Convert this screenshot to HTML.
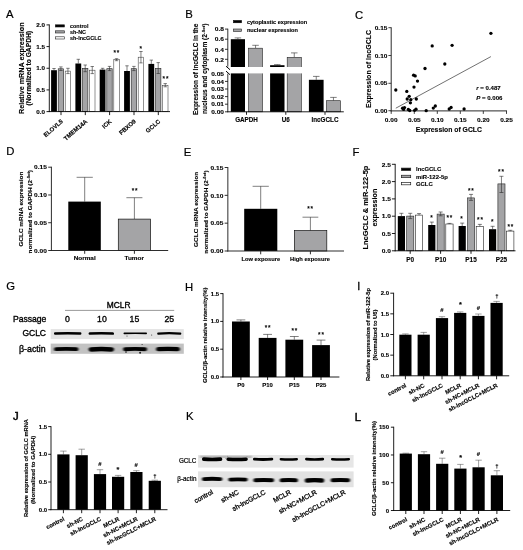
<!DOCTYPE html>
<html lang="en"><head><meta charset="utf-8"><title>Figure</title>
<style>
html,body{margin:0;padding:0;background:#fff;}
svg{display:block;}
svg text{font-family:"Liberation Sans",Arial,sans-serif;}
</style></head><body>
<svg width="523" height="550" viewBox="0 0 523 550" style="filter:blur(0.3px)">
<rect x="0" y="0" width="523" height="550" fill="#fff"/>
<text x="5.90" y="17.70" font-size="11.3" font-weight="normal" text-anchor="start" fill="#000" stroke="#000" stroke-width="0.2">A</text>
<text x="185.30" y="18.30" font-size="11.3" font-weight="normal" text-anchor="start" fill="#000" stroke="#000" stroke-width="0.2">B</text>
<text x="355.00" y="18.60" font-size="11.3" font-weight="normal" text-anchor="start" fill="#000" stroke="#000" stroke-width="0.2">C</text>
<text x="6.30" y="155.40" font-size="11.3" font-weight="normal" text-anchor="start" fill="#000" stroke="#000" stroke-width="0.2">D</text>
<text x="183.80" y="155.80" font-size="11.3" font-weight="normal" text-anchor="start" fill="#000" stroke="#000" stroke-width="0.2">E</text>
<text x="352.50" y="155.80" font-size="11.3" font-weight="normal" text-anchor="start" fill="#000" stroke="#000" stroke-width="0.2">F</text>
<text x="6.30" y="289.60" font-size="11.3" font-weight="normal" text-anchor="start" fill="#000" stroke="#000" stroke-width="0.2">G</text>
<text x="185.00" y="291.20" font-size="11.3" font-weight="normal" text-anchor="start" fill="#000" stroke="#000" stroke-width="0.2">H</text>
<text x="357.20" y="290.20" font-size="10.6" font-weight="normal" text-anchor="start" fill="#000" stroke="#000" stroke-width="0.3">I</text>
<text x="12.90" y="419.90" font-size="11.3" font-weight="normal" text-anchor="start" fill="#000" stroke="#000" stroke-width="0.5">J</text>
<text x="186.00" y="419.60" font-size="11.3" font-weight="normal" text-anchor="start" fill="#000" stroke="#000" stroke-width="0.2">K</text>
<text x="354.70" y="421.30" font-size="11.0" font-weight="normal" text-anchor="start" fill="#000" stroke="#000" stroke-width="0.5">L</text>
<line x1="49.30" y1="24.46" x2="49.30" y2="112.04" stroke="#000" stroke-width="0.88"/>
<line x1="46.50" y1="24.90" x2="49.30" y2="24.90" stroke="#000" stroke-width="0.88"/>
<text x="45.00" y="27.06" font-size="6.0" font-weight="bold" text-anchor="end" fill="#000" stroke="#000" stroke-width="0.12" textLength="8.76" lengthAdjust="spacingAndGlyphs">2.0</text>
<line x1="46.50" y1="46.57" x2="49.30" y2="46.57" stroke="#000" stroke-width="0.88"/>
<text x="45.00" y="48.73" font-size="6.0" font-weight="bold" text-anchor="end" fill="#000" stroke="#000" stroke-width="0.12" textLength="8.76" lengthAdjust="spacingAndGlyphs">1.5</text>
<line x1="46.50" y1="68.25" x2="49.30" y2="68.25" stroke="#000" stroke-width="0.88"/>
<text x="45.00" y="70.41" font-size="6.0" font-weight="bold" text-anchor="end" fill="#000" stroke="#000" stroke-width="0.12" textLength="8.76" lengthAdjust="spacingAndGlyphs">1.0</text>
<line x1="46.50" y1="89.92" x2="49.30" y2="89.92" stroke="#000" stroke-width="0.88"/>
<text x="45.00" y="92.08" font-size="6.0" font-weight="bold" text-anchor="end" fill="#000" stroke="#000" stroke-width="0.12" textLength="8.76" lengthAdjust="spacingAndGlyphs">0.5</text>
<line x1="46.50" y1="111.60" x2="49.30" y2="111.60" stroke="#000" stroke-width="0.88"/>
<text x="45.00" y="113.76" font-size="6.0" font-weight="bold" text-anchor="end" fill="#000" stroke="#000" stroke-width="0.12" textLength="8.76" lengthAdjust="spacingAndGlyphs">0.0</text>
<rect x="51.10" y="70.20" width="5.80" height="41.40" fill="#000"/>
<rect x="58.20" y="68.80" width="5.40" height="42.80" fill="#a4a4a6" stroke="#222" stroke-width="0.6"/>
<rect x="65.20" y="71.10" width="5.50" height="40.50" fill="#fff" stroke="#3a3a3a" stroke-width="0.55"/>
<line x1="54.00" y1="68.50" x2="54.00" y2="70.20" stroke="#2a2a2a" stroke-width="0.6"/>
<line x1="52.30" y1="68.50" x2="55.70" y2="68.50" stroke="#2a2a2a" stroke-width="0.6"/>
<line x1="60.90" y1="66.90" x2="60.90" y2="70.50" stroke="#2a2a2a" stroke-width="0.6"/>
<line x1="59.20" y1="66.90" x2="62.60" y2="66.90" stroke="#2a2a2a" stroke-width="0.6"/>
<line x1="59.20" y1="70.50" x2="62.60" y2="70.50" stroke="#2a2a2a" stroke-width="0.6"/>
<line x1="67.95" y1="68.30" x2="67.95" y2="73.60" stroke="#2a2a2a" stroke-width="0.6"/>
<line x1="66.25" y1="68.30" x2="69.65" y2="68.30" stroke="#2a2a2a" stroke-width="0.6"/>
<line x1="66.25" y1="73.60" x2="69.65" y2="73.60" stroke="#2a2a2a" stroke-width="0.6"/>
<rect x="75.40" y="63.50" width="5.80" height="48.10" fill="#000"/>
<rect x="82.50" y="68.30" width="5.40" height="43.30" fill="#a4a4a6" stroke="#222" stroke-width="0.6"/>
<rect x="89.50" y="70.20" width="5.50" height="41.40" fill="#fff" stroke="#3a3a3a" stroke-width="0.55"/>
<line x1="78.30" y1="59.30" x2="78.30" y2="63.50" stroke="#2a2a2a" stroke-width="0.6"/>
<line x1="76.60" y1="59.30" x2="80.00" y2="59.30" stroke="#2a2a2a" stroke-width="0.6"/>
<line x1="85.20" y1="65.00" x2="85.20" y2="71.70" stroke="#2a2a2a" stroke-width="0.6"/>
<line x1="83.50" y1="65.00" x2="86.90" y2="65.00" stroke="#2a2a2a" stroke-width="0.6"/>
<line x1="83.50" y1="71.70" x2="86.90" y2="71.70" stroke="#2a2a2a" stroke-width="0.6"/>
<line x1="92.25" y1="66.50" x2="92.25" y2="73.60" stroke="#2a2a2a" stroke-width="0.6"/>
<line x1="90.55" y1="66.50" x2="93.95" y2="66.50" stroke="#2a2a2a" stroke-width="0.6"/>
<line x1="90.55" y1="73.60" x2="93.95" y2="73.60" stroke="#2a2a2a" stroke-width="0.6"/>
<rect x="99.70" y="69.60" width="5.80" height="42.00" fill="#000"/>
<rect x="106.80" y="68.70" width="5.40" height="42.90" fill="#a4a4a6" stroke="#222" stroke-width="0.6"/>
<rect x="113.80" y="59.70" width="5.50" height="51.90" fill="#fff" stroke="#3a3a3a" stroke-width="0.55"/>
<line x1="102.60" y1="68.30" x2="102.60" y2="69.60" stroke="#2a2a2a" stroke-width="0.6"/>
<line x1="100.90" y1="68.30" x2="104.30" y2="68.30" stroke="#2a2a2a" stroke-width="0.6"/>
<line x1="109.50" y1="66.40" x2="109.50" y2="70.60" stroke="#2a2a2a" stroke-width="0.6"/>
<line x1="107.80" y1="66.40" x2="111.20" y2="66.40" stroke="#2a2a2a" stroke-width="0.6"/>
<line x1="107.80" y1="70.60" x2="111.20" y2="70.60" stroke="#2a2a2a" stroke-width="0.6"/>
<line x1="116.55" y1="58.70" x2="116.55" y2="60.70" stroke="#2a2a2a" stroke-width="0.6"/>
<line x1="114.85" y1="58.70" x2="118.25" y2="58.70" stroke="#2a2a2a" stroke-width="0.6"/>
<line x1="114.85" y1="60.70" x2="118.25" y2="60.70" stroke="#2a2a2a" stroke-width="0.6"/>
<rect x="124.10" y="71.00" width="5.80" height="40.60" fill="#000"/>
<rect x="131.20" y="68.70" width="5.40" height="42.90" fill="#a4a4a6" stroke="#222" stroke-width="0.6"/>
<rect x="138.20" y="57.20" width="5.50" height="54.40" fill="#fff" stroke="#3a3a3a" stroke-width="0.55"/>
<line x1="127.00" y1="65.80" x2="127.00" y2="71.00" stroke="#2a2a2a" stroke-width="0.6"/>
<line x1="125.30" y1="65.80" x2="128.70" y2="65.80" stroke="#2a2a2a" stroke-width="0.6"/>
<line x1="133.90" y1="66.40" x2="133.90" y2="70.60" stroke="#2a2a2a" stroke-width="0.6"/>
<line x1="132.20" y1="66.40" x2="135.60" y2="66.40" stroke="#2a2a2a" stroke-width="0.6"/>
<line x1="132.20" y1="70.60" x2="135.60" y2="70.60" stroke="#2a2a2a" stroke-width="0.6"/>
<line x1="140.95" y1="51.50" x2="140.95" y2="62.90" stroke="#2a2a2a" stroke-width="0.6"/>
<line x1="139.25" y1="51.50" x2="142.65" y2="51.50" stroke="#2a2a2a" stroke-width="0.6"/>
<line x1="139.25" y1="62.90" x2="142.65" y2="62.90" stroke="#2a2a2a" stroke-width="0.6"/>
<rect x="148.40" y="63.90" width="5.80" height="47.70" fill="#000"/>
<rect x="155.50" y="68.30" width="5.40" height="43.30" fill="#a4a4a6" stroke="#222" stroke-width="0.6"/>
<rect x="162.50" y="85.50" width="5.50" height="26.10" fill="#fff" stroke="#3a3a3a" stroke-width="0.55"/>
<line x1="151.30" y1="60.10" x2="151.30" y2="63.90" stroke="#2a2a2a" stroke-width="0.6"/>
<line x1="149.60" y1="60.10" x2="153.00" y2="60.10" stroke="#2a2a2a" stroke-width="0.6"/>
<line x1="158.20" y1="62.60" x2="158.20" y2="73.50" stroke="#2a2a2a" stroke-width="0.6"/>
<line x1="156.50" y1="62.60" x2="159.90" y2="62.60" stroke="#2a2a2a" stroke-width="0.6"/>
<line x1="156.50" y1="73.50" x2="159.90" y2="73.50" stroke="#2a2a2a" stroke-width="0.6"/>
<line x1="165.25" y1="83.60" x2="165.25" y2="86.80" stroke="#2a2a2a" stroke-width="0.6"/>
<line x1="163.55" y1="83.60" x2="166.95" y2="83.60" stroke="#2a2a2a" stroke-width="0.6"/>
<line x1="163.55" y1="86.80" x2="166.95" y2="86.80" stroke="#2a2a2a" stroke-width="0.6"/>
<line x1="48.86" y1="111.60" x2="170.00" y2="111.60" stroke="#000" stroke-width="0.88"/>
<line x1="61.00" y1="111.60" x2="61.00" y2="115.10" stroke="#000" stroke-width="0.88"/>
<line x1="85.30" y1="111.60" x2="85.30" y2="115.10" stroke="#000" stroke-width="0.88"/>
<line x1="109.60" y1="111.60" x2="109.60" y2="115.10" stroke="#000" stroke-width="0.88"/>
<line x1="134.00" y1="111.60" x2="134.00" y2="115.10" stroke="#000" stroke-width="0.88"/>
<line x1="158.30" y1="111.60" x2="158.30" y2="115.10" stroke="#000" stroke-width="0.88"/>
<text x="63.40" y="122.10" font-size="6.0" font-weight="bold" text-anchor="end" fill="#000" stroke="#000" stroke-width="0.18" transform="rotate(-41 63.40 122.10)">ELOVL5</text>
<text x="87.70" y="122.10" font-size="6.0" font-weight="bold" text-anchor="end" fill="#000" stroke="#000" stroke-width="0.18" transform="rotate(-41 87.70 122.10)">TMEM14A</text>
<text x="112.00" y="122.10" font-size="6.0" font-weight="bold" text-anchor="end" fill="#000" stroke="#000" stroke-width="0.18" transform="rotate(-41 112.00 122.10)">ICK</text>
<text x="136.40" y="122.10" font-size="6.0" font-weight="bold" text-anchor="end" fill="#000" stroke="#000" stroke-width="0.18" transform="rotate(-41 136.40 122.10)">FBXO9</text>
<text x="160.70" y="122.10" font-size="6.0" font-weight="bold" text-anchor="end" fill="#000" stroke="#000" stroke-width="0.18" transform="rotate(-41 160.70 122.10)">GCLC</text>
<text x="114.75" y="54.90" font-size="6.4" font-weight="bold" text-anchor="middle" fill="#000" stroke="#000" stroke-width="0.08">*</text>
<text x="118.05" y="54.90" font-size="6.4" font-weight="bold" text-anchor="middle" fill="#000" stroke="#000" stroke-width="0.08">*</text>
<text x="140.80" y="50.80" font-size="6.4" font-weight="bold" text-anchor="middle" fill="#000" stroke="#000" stroke-width="0.08">*</text>
<text x="163.85" y="80.80" font-size="6.4" font-weight="bold" text-anchor="middle" fill="#000" stroke="#000" stroke-width="0.08">*</text>
<text x="167.15" y="80.80" font-size="6.4" font-weight="bold" text-anchor="middle" fill="#000" stroke="#000" stroke-width="0.08">*</text>
<text x="23.70" y="68.20" font-size="7.0" font-weight="bold" text-anchor="middle" fill="#000" stroke="#000" stroke-width="0.12" textLength="91.60" lengthAdjust="spacingAndGlyphs" transform="rotate(-90 23.70 68.20)">Relative mRNA expression</text>
<text x="30.90" y="68.30" font-size="6.4" font-weight="bold" text-anchor="middle" fill="#000" stroke="#000" stroke-width="0.12" textLength="74.60" lengthAdjust="spacingAndGlyphs" transform="rotate(-90 30.90 68.30)">(Normalized to GAPDH)</text>
<rect x="55.30" y="24.80" width="9.20" height="2.20" fill="#000" stroke="#222" stroke-width="0.6"/>
<text x="70.00" y="27.92" font-size="5.6" font-weight="bold" text-anchor="start" fill="#000" stroke="#000" stroke-width="0.12" textLength="18.41" lengthAdjust="spacingAndGlyphs">control</text>
<rect x="55.30" y="30.80" width="9.20" height="2.20" fill="#a4a4a6" stroke="#222" stroke-width="0.6"/>
<text x="70.00" y="33.92" font-size="5.6" font-weight="bold" text-anchor="start" fill="#000" stroke="#000" stroke-width="0.12" textLength="15.99" lengthAdjust="spacingAndGlyphs">sh-NC</text>
<rect x="55.30" y="36.80" width="9.20" height="2.20" fill="#fff" stroke="#222" stroke-width="0.6"/>
<text x="70.00" y="39.92" font-size="5.6" font-weight="bold" text-anchor="start" fill="#000" stroke="#000" stroke-width="0.12" textLength="31.39" lengthAdjust="spacingAndGlyphs">sh-lncGCLC</text>
<line x1="227.80" y1="28.70" x2="227.80" y2="66.60" stroke="#000" stroke-width="0.8"/>
<line x1="227.80" y1="73.60" x2="227.80" y2="112.20" stroke="#000" stroke-width="0.8"/>
<line x1="225.00" y1="29.10" x2="227.80" y2="29.10" stroke="#000" stroke-width="0.8"/>
<text x="224.00" y="31.30" font-size="6.1" font-weight="bold" text-anchor="end" fill="#000" stroke="#000" stroke-width="0.12" textLength="9.16" lengthAdjust="spacingAndGlyphs">0.8</text>
<line x1="225.00" y1="39.20" x2="227.80" y2="39.20" stroke="#000" stroke-width="0.8"/>
<text x="224.00" y="41.40" font-size="6.1" font-weight="bold" text-anchor="end" fill="#000" stroke="#000" stroke-width="0.12" textLength="9.16" lengthAdjust="spacingAndGlyphs">0.6</text>
<line x1="225.00" y1="49.30" x2="227.80" y2="49.30" stroke="#000" stroke-width="0.8"/>
<text x="224.00" y="51.50" font-size="6.1" font-weight="bold" text-anchor="end" fill="#000" stroke="#000" stroke-width="0.12" textLength="9.16" lengthAdjust="spacingAndGlyphs">0.4</text>
<line x1="225.00" y1="59.30" x2="227.80" y2="59.30" stroke="#000" stroke-width="0.8"/>
<text x="224.00" y="61.50" font-size="6.1" font-weight="bold" text-anchor="end" fill="#000" stroke="#000" stroke-width="0.12" textLength="9.16" lengthAdjust="spacingAndGlyphs">0.2</text>
<text x="224.00" y="75.70" font-size="6.1" font-weight="bold" text-anchor="end" fill="#000" stroke="#000" stroke-width="0.12" textLength="12.82" lengthAdjust="spacingAndGlyphs">0.05</text>
<line x1="225.00" y1="81.40" x2="227.80" y2="81.40" stroke="#000" stroke-width="0.8"/>
<text x="224.00" y="83.60" font-size="6.1" font-weight="bold" text-anchor="end" fill="#000" stroke="#000" stroke-width="0.12" textLength="12.82" lengthAdjust="spacingAndGlyphs">0.04</text>
<line x1="225.00" y1="89.00" x2="227.80" y2="89.00" stroke="#000" stroke-width="0.8"/>
<text x="224.00" y="91.20" font-size="6.1" font-weight="bold" text-anchor="end" fill="#000" stroke="#000" stroke-width="0.12" textLength="12.82" lengthAdjust="spacingAndGlyphs">0.03</text>
<line x1="225.00" y1="96.60" x2="227.80" y2="96.60" stroke="#000" stroke-width="0.8"/>
<text x="224.00" y="98.80" font-size="6.1" font-weight="bold" text-anchor="end" fill="#000" stroke="#000" stroke-width="0.12" textLength="12.82" lengthAdjust="spacingAndGlyphs">0.02</text>
<line x1="225.00" y1="104.20" x2="227.80" y2="104.20" stroke="#000" stroke-width="0.8"/>
<text x="224.00" y="106.40" font-size="6.1" font-weight="bold" text-anchor="end" fill="#000" stroke="#000" stroke-width="0.12" textLength="12.82" lengthAdjust="spacingAndGlyphs">0.01</text>
<line x1="225.00" y1="111.80" x2="227.80" y2="111.80" stroke="#000" stroke-width="0.8"/>
<text x="224.00" y="114.00" font-size="6.1" font-weight="bold" text-anchor="end" fill="#000" stroke="#000" stroke-width="0.12" textLength="12.82" lengthAdjust="spacingAndGlyphs">0.00</text>
<line x1="237.90" y1="37.90" x2="237.90" y2="39.20" stroke="#2a2a2a" stroke-width="0.6"/>
<line x1="234.65" y1="37.90" x2="241.15" y2="37.90" stroke="#2a2a2a" stroke-width="0.6"/>
<rect x="230.80" y="39.20" width="14.20" height="72.60" fill="#000"/>
<line x1="255.55" y1="45.30" x2="255.55" y2="48.20" stroke="#2a2a2a" stroke-width="0.6"/>
<line x1="252.30" y1="45.30" x2="258.80" y2="45.30" stroke="#2a2a2a" stroke-width="0.6"/>
<rect x="248.60" y="48.20" width="13.90" height="63.60" fill="#a4a4a6" stroke="#222" stroke-width="0.6"/>
<line x1="277.30" y1="64.60" x2="277.30" y2="65.20" stroke="#2a2a2a" stroke-width="0.6"/>
<line x1="274.05" y1="64.60" x2="280.55" y2="64.60" stroke="#2a2a2a" stroke-width="0.6"/>
<rect x="270.10" y="65.20" width="14.40" height="46.60" fill="#000"/>
<line x1="294.25" y1="52.90" x2="294.25" y2="57.30" stroke="#2a2a2a" stroke-width="0.6"/>
<line x1="291.00" y1="52.90" x2="297.50" y2="52.90" stroke="#2a2a2a" stroke-width="0.6"/>
<rect x="287.20" y="57.30" width="14.10" height="54.50" fill="#a4a4a6" stroke="#222" stroke-width="0.6"/>
<line x1="316.25" y1="76.40" x2="316.25" y2="79.80" stroke="#2a2a2a" stroke-width="0.6"/>
<line x1="313.00" y1="76.40" x2="319.50" y2="76.40" stroke="#2a2a2a" stroke-width="0.6"/>
<rect x="308.90" y="79.80" width="14.70" height="32.00" fill="#000"/>
<line x1="333.45" y1="97.40" x2="333.45" y2="100.70" stroke="#2a2a2a" stroke-width="0.6"/>
<line x1="330.20" y1="97.40" x2="336.70" y2="97.40" stroke="#2a2a2a" stroke-width="0.6"/>
<rect x="326.40" y="100.70" width="14.10" height="11.10" fill="#a4a4a6" stroke="#222" stroke-width="0.6"/>
<rect x="228.40" y="67.00" width="76.60" height="6.40" fill="#fff"/>
<line x1="226.00" y1="66.20" x2="230.00" y2="69.70" stroke="#000" stroke-width="1.0"/>
<line x1="226.00" y1="71.10" x2="230.00" y2="74.70" stroke="#000" stroke-width="1.0"/>
<line x1="227.36" y1="111.80" x2="343.80" y2="111.80" stroke="#000" stroke-width="0.88"/>
<line x1="246.50" y1="111.80" x2="246.50" y2="114.80" stroke="#000" stroke-width="0.88"/>
<line x1="285.80" y1="111.80" x2="285.80" y2="114.80" stroke="#000" stroke-width="0.88"/>
<line x1="325.00" y1="111.80" x2="325.00" y2="114.80" stroke="#000" stroke-width="0.88"/>
<text x="246.50" y="122.47" font-size="6.3" font-weight="bold" text-anchor="middle" fill="#000" stroke="#000" stroke-width="0.12" textLength="22.75" lengthAdjust="spacingAndGlyphs">GAPDH</text>
<text x="285.80" y="122.47" font-size="6.3" font-weight="bold" text-anchor="middle" fill="#000" stroke="#000" stroke-width="0.12" textLength="8.05" lengthAdjust="spacingAndGlyphs">U6</text>
<text x="325.00" y="122.47" font-size="6.3" font-weight="bold" text-anchor="middle" fill="#000" stroke="#000" stroke-width="0.12" textLength="26.95" lengthAdjust="spacingAndGlyphs">lncGCLC</text>
<text x="198.40" y="69.30" font-size="6.3" font-weight="bold" text-anchor="middle" fill="#000" stroke="#000" stroke-width="0.12" textLength="91.40" lengthAdjust="spacingAndGlyphs" transform="rotate(-90 198.40 69.30)">Expression of lncGCLC in the</text>
<text x="207.20" y="68.80" font-size="6.3" font-weight="bold" text-anchor="middle" fill="#000" stroke="#000" stroke-width="0.12" textLength="90.40" lengthAdjust="spacingAndGlyphs" transform="rotate(-90 207.20 68.80)">nucleus and cytoplasm (2<tspan font-size="4.4" dy="-2.2">-δct</tspan><tspan dy="2.2">)</tspan></text>
<rect x="233.40" y="20.40" width="8.20" height="2.40" fill="#000" stroke="#000" stroke-width="0.5"/>
<text x="246.90" y="23.92" font-size="5.6" font-weight="bold" text-anchor="start" fill="#000" stroke="#000" stroke-width="0.12">cytoplastic expression</text>
<rect x="233.40" y="29.00" width="8.20" height="2.40" fill="#a4a4a6" stroke="#222" stroke-width="0.6"/>
<text x="246.90" y="32.42" font-size="5.6" font-weight="bold" text-anchor="start" fill="#000" stroke="#000" stroke-width="0.12">nuclear expression</text>
<line x1="391.20" y1="27.30" x2="391.20" y2="111.40" stroke="#2a2a2a" stroke-width="1.0"/>
<line x1="390.70" y1="110.90" x2="507.00" y2="110.90" stroke="#2a2a2a" stroke-width="1.0"/>
<line x1="388.40" y1="27.70" x2="391.20" y2="27.70" stroke="#2a2a2a" stroke-width="0.9"/>
<text x="387.40" y="29.79" font-size="5.8" font-weight="bold" text-anchor="end" fill="#000" stroke="#000" stroke-width="0.12" textLength="12.64" lengthAdjust="spacingAndGlyphs">0.15</text>
<line x1="388.40" y1="55.50" x2="391.20" y2="55.50" stroke="#2a2a2a" stroke-width="0.9"/>
<text x="387.40" y="57.59" font-size="5.8" font-weight="bold" text-anchor="end" fill="#000" stroke="#000" stroke-width="0.12" textLength="12.64" lengthAdjust="spacingAndGlyphs">0.10</text>
<line x1="388.40" y1="83.30" x2="391.20" y2="83.30" stroke="#2a2a2a" stroke-width="0.9"/>
<text x="387.40" y="85.39" font-size="5.8" font-weight="bold" text-anchor="end" fill="#000" stroke="#000" stroke-width="0.12" textLength="12.64" lengthAdjust="spacingAndGlyphs">0.05</text>
<line x1="388.40" y1="110.70" x2="391.20" y2="110.70" stroke="#2a2a2a" stroke-width="0.9"/>
<text x="387.40" y="112.79" font-size="5.8" font-weight="bold" text-anchor="end" fill="#000" stroke="#000" stroke-width="0.12" textLength="12.64" lengthAdjust="spacingAndGlyphs">0.00</text>
<line x1="391.20" y1="110.90" x2="391.20" y2="113.90" stroke="#2a2a2a" stroke-width="0.9"/>
<text x="391.20" y="121.59" font-size="5.8" font-weight="bold" text-anchor="middle" fill="#000" stroke="#000" stroke-width="0.12" textLength="12.64" lengthAdjust="spacingAndGlyphs">0.00</text>
<line x1="414.30" y1="110.90" x2="414.30" y2="113.90" stroke="#2a2a2a" stroke-width="0.9"/>
<text x="414.30" y="121.59" font-size="5.8" font-weight="bold" text-anchor="middle" fill="#000" stroke="#000" stroke-width="0.12" textLength="12.64" lengthAdjust="spacingAndGlyphs">0.05</text>
<line x1="437.30" y1="110.90" x2="437.30" y2="113.90" stroke="#2a2a2a" stroke-width="0.9"/>
<text x="437.30" y="121.59" font-size="5.8" font-weight="bold" text-anchor="middle" fill="#000" stroke="#000" stroke-width="0.12" textLength="12.64" lengthAdjust="spacingAndGlyphs">0.10</text>
<line x1="460.30" y1="110.90" x2="460.30" y2="113.90" stroke="#2a2a2a" stroke-width="0.9"/>
<text x="460.30" y="121.59" font-size="5.8" font-weight="bold" text-anchor="middle" fill="#000" stroke="#000" stroke-width="0.12" textLength="12.64" lengthAdjust="spacingAndGlyphs">0.15</text>
<line x1="483.30" y1="110.90" x2="483.30" y2="113.90" stroke="#2a2a2a" stroke-width="0.9"/>
<text x="483.30" y="121.59" font-size="5.8" font-weight="bold" text-anchor="middle" fill="#000" stroke="#000" stroke-width="0.12" textLength="12.64" lengthAdjust="spacingAndGlyphs">0.20</text>
<line x1="506.50" y1="110.90" x2="506.50" y2="113.90" stroke="#2a2a2a" stroke-width="0.9"/>
<text x="506.50" y="121.59" font-size="5.8" font-weight="bold" text-anchor="middle" fill="#000" stroke="#000" stroke-width="0.12" textLength="12.64" lengthAdjust="spacingAndGlyphs">0.25</text>
<line x1="395.80" y1="108.20" x2="490.90" y2="56.60" stroke="#333" stroke-width="0.7"/>
<circle cx="490.9" cy="33.3" r="1.65" fill="#000"/>
<circle cx="432.2" cy="45.9" r="1.65" fill="#000"/>
<circle cx="452.1" cy="45.3" r="1.65" fill="#000"/>
<circle cx="444.8" cy="64.0" r="1.65" fill="#000"/>
<circle cx="425.0" cy="68.5" r="1.65" fill="#000"/>
<circle cx="413.6" cy="75.2" r="1.65" fill="#000"/>
<circle cx="415.2" cy="75.9" r="1.65" fill="#000"/>
<circle cx="417.5" cy="81.1" r="1.65" fill="#000"/>
<circle cx="414.0" cy="87.1" r="1.65" fill="#000"/>
<circle cx="395.8" cy="90.0" r="1.65" fill="#000"/>
<circle cx="406.8" cy="91.4" r="1.65" fill="#000"/>
<circle cx="409.2" cy="96.3" r="1.65" fill="#000"/>
<circle cx="407.2" cy="99.0" r="1.65" fill="#000"/>
<circle cx="410.8" cy="99.7" r="1.65" fill="#000"/>
<circle cx="416.3" cy="99.0" r="1.65" fill="#000"/>
<circle cx="410.4" cy="102.8" r="1.65" fill="#000"/>
<circle cx="402.6" cy="108.2" r="1.65" fill="#000"/>
<circle cx="404.5" cy="107.6" r="1.65" fill="#000"/>
<circle cx="403.6" cy="109.4" r="1.65" fill="#000"/>
<circle cx="408.3" cy="109.4" r="1.65" fill="#000"/>
<circle cx="409.7" cy="110.5" r="1.65" fill="#000"/>
<circle cx="414.6" cy="110.3" r="1.65" fill="#000"/>
<circle cx="416.0" cy="109.2" r="1.65" fill="#000"/>
<circle cx="426.2" cy="110.7" r="1.65" fill="#000"/>
<circle cx="433.3" cy="108.1" r="1.65" fill="#000"/>
<circle cx="435.3" cy="106.0" r="1.65" fill="#000"/>
<circle cx="451.1" cy="107.4" r="1.65" fill="#000"/>
<circle cx="449.2" cy="109.0" r="1.65" fill="#000"/>
<circle cx="464.1" cy="109.0" r="1.65" fill="#000"/>
<text x="371.00" y="69.00" font-size="6.9" font-weight="bold" text-anchor="middle" fill="#000" stroke="#000" stroke-width="0.12" textLength="78.00" lengthAdjust="spacingAndGlyphs" transform="rotate(-90 371.00 69.00)">Expression of lncGCLC</text>
<text x="448.80" y="132.02" font-size="7.0" font-weight="bold" text-anchor="middle" fill="#000" stroke="#000" stroke-width="0.12" textLength="66.20" lengthAdjust="spacingAndGlyphs">Expression of GCLC</text>
<text x="476.20" y="90.40" font-size="6.1" font-weight="bold" text-anchor="start" fill="#000" stroke="#000" stroke-width="0.12"><tspan font-style="italic">r</tspan> = 0.487</text>
<text x="476.20" y="100.10" font-size="6.1" font-weight="bold" text-anchor="start" fill="#000" stroke="#000" stroke-width="0.12"><tspan font-style="italic">P</tspan> = 0.006</text>
<line x1="51.40" y1="166.72" x2="51.40" y2="250.97" stroke="#222" stroke-width="0.95"/>
<line x1="48.20" y1="167.20" x2="51.40" y2="167.20" stroke="#222" stroke-width="0.95"/>
<text x="46.90" y="169.40" font-size="6.1" font-weight="bold" text-anchor="end" fill="#000" stroke="#000" stroke-width="0.12" textLength="12.82" lengthAdjust="spacingAndGlyphs">0.15</text>
<line x1="48.20" y1="194.97" x2="51.40" y2="194.97" stroke="#222" stroke-width="0.95"/>
<text x="46.90" y="197.17" font-size="6.1" font-weight="bold" text-anchor="end" fill="#000" stroke="#000" stroke-width="0.12" textLength="12.82" lengthAdjust="spacingAndGlyphs">0.10</text>
<line x1="48.20" y1="222.73" x2="51.40" y2="222.73" stroke="#222" stroke-width="0.95"/>
<text x="46.90" y="224.93" font-size="6.1" font-weight="bold" text-anchor="end" fill="#000" stroke="#000" stroke-width="0.12" textLength="12.82" lengthAdjust="spacingAndGlyphs">0.05</text>
<line x1="48.20" y1="250.50" x2="51.40" y2="250.50" stroke="#222" stroke-width="0.95"/>
<text x="46.90" y="252.70" font-size="6.1" font-weight="bold" text-anchor="end" fill="#000" stroke="#000" stroke-width="0.12" textLength="12.82" lengthAdjust="spacingAndGlyphs">0.00</text>
<line x1="84.70" y1="177.30" x2="84.70" y2="201.60" stroke="#2a2a2a" stroke-width="0.6"/>
<line x1="76.60" y1="177.30" x2="92.80" y2="177.30" stroke="#2a2a2a" stroke-width="0.6"/>
<rect x="68.30" y="201.60" width="32.50" height="48.90" fill="#000"/>
<line x1="134.40" y1="197.70" x2="134.40" y2="219.10" stroke="#2a2a2a" stroke-width="0.6"/>
<line x1="126.40" y1="197.70" x2="142.40" y2="197.70" stroke="#2a2a2a" stroke-width="0.6"/>
<rect x="118.30" y="219.10" width="32.30" height="31.40" fill="#a4a4a6" stroke="#111" stroke-width="0.7"/>
<line x1="50.92" y1="250.50" x2="168.20" y2="250.50" stroke="#222" stroke-width="0.95"/>
<line x1="84.70" y1="250.50" x2="84.70" y2="253.80" stroke="#222" stroke-width="0.95"/>
<line x1="134.40" y1="250.50" x2="134.40" y2="253.80" stroke="#222" stroke-width="0.95"/>
<text x="84.70" y="260.35" font-size="5.7" font-weight="bold" text-anchor="middle" fill="#000" stroke="#000" stroke-width="0.12" textLength="21.99" lengthAdjust="spacingAndGlyphs">Normal</text>
<text x="134.20" y="260.35" font-size="5.7" font-weight="bold" text-anchor="middle" fill="#000" stroke="#000" stroke-width="0.12" textLength="19.39" lengthAdjust="spacingAndGlyphs">Tumor</text>
<text x="132.95" y="192.60" font-size="6.4" font-weight="bold" text-anchor="middle" fill="#000" stroke="#000" stroke-width="0.08">*</text>
<text x="136.25" y="192.60" font-size="6.4" font-weight="bold" text-anchor="middle" fill="#000" stroke="#000" stroke-width="0.08">*</text>
<text x="23.00" y="209.10" font-size="5.6" font-weight="bold" text-anchor="middle" fill="#000" stroke="#000" stroke-width="0.12" textLength="75.00" lengthAdjust="spacingAndGlyphs" transform="rotate(-90 23.00 209.10)">GCLC mRNA expression</text>
<text x="32.00" y="211.70" font-size="5.6" font-weight="bold" text-anchor="middle" fill="#000" stroke="#000" stroke-width="0.12" textLength="83.40" lengthAdjust="spacingAndGlyphs" transform="rotate(-90 32.00 211.70)">normalized to GAPDH (2<tspan font-size="3.8" dy="-2.0">-δct</tspan><tspan dy="2.0">)</tspan></text>
<line x1="227.85" y1="167.03" x2="227.85" y2="251.47" stroke="#222" stroke-width="0.95"/>
<line x1="224.65" y1="167.50" x2="227.85" y2="167.50" stroke="#222" stroke-width="0.95"/>
<text x="223.35" y="169.70" font-size="6.1" font-weight="bold" text-anchor="end" fill="#000" stroke="#000" stroke-width="0.12" textLength="12.82" lengthAdjust="spacingAndGlyphs">0.15</text>
<line x1="224.65" y1="195.33" x2="227.85" y2="195.33" stroke="#222" stroke-width="0.95"/>
<text x="223.35" y="197.53" font-size="6.1" font-weight="bold" text-anchor="end" fill="#000" stroke="#000" stroke-width="0.12" textLength="12.82" lengthAdjust="spacingAndGlyphs">0.10</text>
<line x1="224.65" y1="223.17" x2="227.85" y2="223.17" stroke="#222" stroke-width="0.95"/>
<text x="223.35" y="225.37" font-size="6.1" font-weight="bold" text-anchor="end" fill="#000" stroke="#000" stroke-width="0.12" textLength="12.82" lengthAdjust="spacingAndGlyphs">0.05</text>
<line x1="224.65" y1="251.00" x2="227.85" y2="251.00" stroke="#222" stroke-width="0.95"/>
<text x="223.35" y="253.20" font-size="6.1" font-weight="bold" text-anchor="end" fill="#000" stroke="#000" stroke-width="0.12" textLength="12.82" lengthAdjust="spacingAndGlyphs">0.00</text>
<line x1="260.70" y1="186.30" x2="260.70" y2="208.80" stroke="#2a2a2a" stroke-width="0.6"/>
<line x1="252.60" y1="186.30" x2="268.80" y2="186.30" stroke="#2a2a2a" stroke-width="0.6"/>
<rect x="244.20" y="208.80" width="33.10" height="42.20" fill="#000"/>
<line x1="310.40" y1="217.20" x2="310.40" y2="230.60" stroke="#2a2a2a" stroke-width="0.6"/>
<line x1="302.50" y1="217.20" x2="318.30" y2="217.20" stroke="#2a2a2a" stroke-width="0.6"/>
<rect x="294.40" y="230.60" width="32.40" height="20.40" fill="#a4a4a6" stroke="#111" stroke-width="0.7"/>
<line x1="227.38" y1="251.00" x2="344.00" y2="251.00" stroke="#222" stroke-width="0.95"/>
<line x1="260.70" y1="251.00" x2="260.70" y2="254.30" stroke="#222" stroke-width="0.95"/>
<line x1="310.40" y1="251.00" x2="310.40" y2="254.30" stroke="#222" stroke-width="0.95"/>
<text x="260.80" y="260.79" font-size="5.8" font-weight="bold" text-anchor="middle" fill="#000" stroke="#000" stroke-width="0.12" textLength="38.60" lengthAdjust="spacingAndGlyphs">Low exposure</text>
<text x="310.00" y="260.79" font-size="5.8" font-weight="bold" text-anchor="middle" fill="#000" stroke="#000" stroke-width="0.12" textLength="40.00" lengthAdjust="spacingAndGlyphs">High exposure</text>
<text x="308.55" y="210.60" font-size="6.4" font-weight="bold" text-anchor="middle" fill="#000" stroke="#000" stroke-width="0.08">*</text>
<text x="311.85" y="210.60" font-size="6.4" font-weight="bold" text-anchor="middle" fill="#000" stroke="#000" stroke-width="0.08">*</text>
<text x="198.40" y="209.40" font-size="5.6" font-weight="bold" text-anchor="middle" fill="#000" stroke="#000" stroke-width="0.12" textLength="75.00" lengthAdjust="spacingAndGlyphs" transform="rotate(-90 198.40 209.40)">GCLC mRNA expression</text>
<text x="207.60" y="212.00" font-size="5.6" font-weight="bold" text-anchor="middle" fill="#000" stroke="#000" stroke-width="0.12" textLength="83.40" lengthAdjust="spacingAndGlyphs" transform="rotate(-90 207.60 212.00)">normalized to GAPDH (2<tspan font-size="3.8" dy="-2.0">-δct</tspan><tspan dy="2.0">)</tspan></text>
<line x1="395.20" y1="163.86" x2="395.20" y2="251.24" stroke="#000" stroke-width="0.88"/>
<line x1="391.90" y1="164.30" x2="395.20" y2="164.30" stroke="#000" stroke-width="0.88"/>
<text x="390.90" y="166.50" font-size="6.1" font-weight="bold" text-anchor="end" fill="#000" stroke="#000" stroke-width="0.12" textLength="9.16" lengthAdjust="spacingAndGlyphs">2.5</text>
<line x1="391.90" y1="181.60" x2="395.20" y2="181.60" stroke="#000" stroke-width="0.88"/>
<text x="390.90" y="183.80" font-size="6.1" font-weight="bold" text-anchor="end" fill="#000" stroke="#000" stroke-width="0.12" textLength="9.16" lengthAdjust="spacingAndGlyphs">2.0</text>
<line x1="391.90" y1="198.90" x2="395.20" y2="198.90" stroke="#000" stroke-width="0.88"/>
<text x="390.90" y="201.10" font-size="6.1" font-weight="bold" text-anchor="end" fill="#000" stroke="#000" stroke-width="0.12" textLength="9.16" lengthAdjust="spacingAndGlyphs">1.5</text>
<line x1="391.90" y1="216.20" x2="395.20" y2="216.20" stroke="#000" stroke-width="0.88"/>
<text x="390.90" y="218.40" font-size="6.1" font-weight="bold" text-anchor="end" fill="#000" stroke="#000" stroke-width="0.12" textLength="9.16" lengthAdjust="spacingAndGlyphs">1.0</text>
<line x1="391.90" y1="233.50" x2="395.20" y2="233.50" stroke="#000" stroke-width="0.88"/>
<text x="390.90" y="235.70" font-size="6.1" font-weight="bold" text-anchor="end" fill="#000" stroke="#000" stroke-width="0.12" textLength="9.16" lengthAdjust="spacingAndGlyphs">0.5</text>
<line x1="391.90" y1="250.80" x2="395.20" y2="250.80" stroke="#000" stroke-width="0.88"/>
<text x="390.90" y="253.00" font-size="6.1" font-weight="bold" text-anchor="end" fill="#000" stroke="#000" stroke-width="0.12" textLength="9.16" lengthAdjust="spacingAndGlyphs">0.0</text>
<rect x="397.80" y="216.10" width="7.20" height="34.70" fill="#000"/>
<rect x="406.70" y="216.10" width="7.10" height="34.70" fill="#a4a4a6" stroke="#222" stroke-width="0.6"/>
<rect x="415.40" y="215.10" width="7.30" height="35.70" fill="#fff" stroke="#222" stroke-width="0.6"/>
<line x1="401.40" y1="213.30" x2="401.40" y2="216.10" stroke="#2a2a2a" stroke-width="0.6"/>
<line x1="399.40" y1="213.30" x2="403.40" y2="213.30" stroke="#2a2a2a" stroke-width="0.6"/>
<line x1="410.25" y1="213.30" x2="410.25" y2="218.60" stroke="#2a2a2a" stroke-width="0.6"/>
<line x1="408.25" y1="213.30" x2="412.25" y2="213.30" stroke="#2a2a2a" stroke-width="0.6"/>
<line x1="408.25" y1="218.60" x2="412.25" y2="218.60" stroke="#2a2a2a" stroke-width="0.6"/>
<line x1="419.05" y1="213.60" x2="419.05" y2="215.10" stroke="#2a2a2a" stroke-width="0.6"/>
<line x1="417.05" y1="213.60" x2="421.05" y2="213.60" stroke="#2a2a2a" stroke-width="0.6"/>
<rect x="428.20" y="225.00" width="7.20" height="25.80" fill="#000"/>
<rect x="437.10" y="214.10" width="7.10" height="36.70" fill="#a4a4a6" stroke="#222" stroke-width="0.6"/>
<rect x="445.80" y="224.00" width="7.30" height="26.80" fill="#fff" stroke="#222" stroke-width="0.6"/>
<line x1="431.80" y1="222.10" x2="431.80" y2="225.00" stroke="#2a2a2a" stroke-width="0.6"/>
<line x1="429.80" y1="222.10" x2="433.80" y2="222.10" stroke="#2a2a2a" stroke-width="0.6"/>
<line x1="440.65" y1="212.00" x2="440.65" y2="215.80" stroke="#2a2a2a" stroke-width="0.6"/>
<line x1="438.65" y1="212.00" x2="442.65" y2="212.00" stroke="#2a2a2a" stroke-width="0.6"/>
<line x1="438.65" y1="215.80" x2="442.65" y2="215.80" stroke="#2a2a2a" stroke-width="0.6"/>
<line x1="449.45" y1="223.40" x2="449.45" y2="224.00" stroke="#2a2a2a" stroke-width="0.6"/>
<line x1="447.45" y1="223.40" x2="451.45" y2="223.40" stroke="#2a2a2a" stroke-width="0.6"/>
<rect x="458.60" y="226.00" width="7.20" height="24.80" fill="#000"/>
<rect x="467.50" y="197.90" width="7.10" height="52.90" fill="#a4a4a6" stroke="#222" stroke-width="0.6"/>
<rect x="476.20" y="226.30" width="7.30" height="24.50" fill="#fff" stroke="#222" stroke-width="0.6"/>
<line x1="462.20" y1="223.10" x2="462.20" y2="226.00" stroke="#2a2a2a" stroke-width="0.6"/>
<line x1="460.20" y1="223.10" x2="464.20" y2="223.10" stroke="#2a2a2a" stroke-width="0.6"/>
<line x1="471.05" y1="194.40" x2="471.05" y2="200.40" stroke="#2a2a2a" stroke-width="0.6"/>
<line x1="469.05" y1="194.40" x2="473.05" y2="194.40" stroke="#2a2a2a" stroke-width="0.6"/>
<line x1="469.05" y1="200.40" x2="473.05" y2="200.40" stroke="#2a2a2a" stroke-width="0.6"/>
<line x1="479.85" y1="224.40" x2="479.85" y2="226.30" stroke="#2a2a2a" stroke-width="0.6"/>
<line x1="477.85" y1="224.40" x2="481.85" y2="224.40" stroke="#2a2a2a" stroke-width="0.6"/>
<rect x="489.00" y="229.20" width="7.20" height="21.60" fill="#000"/>
<rect x="497.90" y="183.90" width="7.10" height="66.90" fill="#a4a4a6" stroke="#222" stroke-width="0.6"/>
<rect x="506.60" y="231.10" width="7.30" height="19.70" fill="#fff" stroke="#222" stroke-width="0.6"/>
<line x1="492.60" y1="226.30" x2="492.60" y2="229.20" stroke="#2a2a2a" stroke-width="0.6"/>
<line x1="490.60" y1="226.30" x2="494.60" y2="226.30" stroke="#2a2a2a" stroke-width="0.6"/>
<line x1="501.45" y1="176.30" x2="501.45" y2="192.50" stroke="#2a2a2a" stroke-width="0.6"/>
<line x1="499.45" y1="176.30" x2="503.45" y2="176.30" stroke="#2a2a2a" stroke-width="0.6"/>
<line x1="499.45" y1="192.50" x2="503.45" y2="192.50" stroke="#2a2a2a" stroke-width="0.6"/>
<line x1="510.25" y1="230.30" x2="510.25" y2="231.10" stroke="#2a2a2a" stroke-width="0.6"/>
<line x1="508.25" y1="230.30" x2="512.25" y2="230.30" stroke="#2a2a2a" stroke-width="0.6"/>
<line x1="394.76" y1="250.80" x2="515.50" y2="250.80" stroke="#000" stroke-width="0.88"/>
<line x1="410.20" y1="250.80" x2="410.20" y2="253.80" stroke="#000" stroke-width="0.88"/>
<line x1="440.60" y1="250.80" x2="440.60" y2="253.80" stroke="#000" stroke-width="0.88"/>
<line x1="471.00" y1="250.80" x2="471.00" y2="253.80" stroke="#000" stroke-width="0.88"/>
<line x1="501.40" y1="250.80" x2="501.40" y2="253.80" stroke="#000" stroke-width="0.88"/>
<text x="410.20" y="261.70" font-size="6.4" font-weight="bold" text-anchor="middle" fill="#000" stroke="#000" stroke-width="0.12">P0</text>
<text x="440.60" y="261.70" font-size="6.4" font-weight="bold" text-anchor="middle" fill="#000" stroke="#000" stroke-width="0.12">P10</text>
<text x="471.00" y="261.70" font-size="6.4" font-weight="bold" text-anchor="middle" fill="#000" stroke="#000" stroke-width="0.12">P15</text>
<text x="501.40" y="261.70" font-size="6.4" font-weight="bold" text-anchor="middle" fill="#000" stroke="#000" stroke-width="0.12">P25</text>
<text x="431.60" y="220.20" font-size="6.4" font-weight="bold" text-anchor="middle" fill="#000" stroke="#000" stroke-width="0.08">*</text>
<text x="447.75" y="219.80" font-size="6.4" font-weight="bold" text-anchor="middle" fill="#000" stroke="#000" stroke-width="0.08">*</text>
<text x="451.05" y="219.80" font-size="6.4" font-weight="bold" text-anchor="middle" fill="#000" stroke="#000" stroke-width="0.08">*</text>
<text x="469.15" y="192.50" font-size="6.4" font-weight="bold" text-anchor="middle" fill="#000" stroke="#000" stroke-width="0.08">*</text>
<text x="472.45" y="192.50" font-size="6.4" font-weight="bold" text-anchor="middle" fill="#000" stroke="#000" stroke-width="0.08">*</text>
<text x="461.60" y="221.20" font-size="6.4" font-weight="bold" text-anchor="middle" fill="#000" stroke="#000" stroke-width="0.08">*</text>
<text x="478.35" y="222.30" font-size="6.4" font-weight="bold" text-anchor="middle" fill="#000" stroke="#000" stroke-width="0.08">*</text>
<text x="481.65" y="222.30" font-size="6.4" font-weight="bold" text-anchor="middle" fill="#000" stroke="#000" stroke-width="0.08">*</text>
<text x="492.20" y="224.00" font-size="6.4" font-weight="bold" text-anchor="middle" fill="#000" stroke="#000" stroke-width="0.08">*</text>
<text x="499.35" y="174.20" font-size="6.4" font-weight="bold" text-anchor="middle" fill="#000" stroke="#000" stroke-width="0.08">*</text>
<text x="502.65" y="174.20" font-size="6.4" font-weight="bold" text-anchor="middle" fill="#000" stroke="#000" stroke-width="0.08">*</text>
<text x="508.75" y="228.60" font-size="6.4" font-weight="bold" text-anchor="middle" fill="#000" stroke="#000" stroke-width="0.08">*</text>
<text x="512.05" y="228.60" font-size="6.4" font-weight="bold" text-anchor="middle" fill="#000" stroke="#000" stroke-width="0.08">*</text>
<text x="367.60" y="207.60" font-size="7.2" font-weight="bold" text-anchor="middle" fill="#000" stroke="#000" stroke-width="0.12" textLength="84.00" lengthAdjust="spacingAndGlyphs" transform="rotate(-90 367.60 207.60)">LncGCLC &amp; miR-122-5p</text>
<text x="377.40" y="207.60" font-size="7.2" font-weight="bold" text-anchor="middle" fill="#000" stroke="#000" stroke-width="0.12" textLength="37.80" lengthAdjust="spacingAndGlyphs" transform="rotate(-90 377.40 207.60)">expression</text>
<rect x="401.40" y="168.10" width="9.30" height="2.40" fill="#000" stroke="#222" stroke-width="0.7"/>
<text x="416.00" y="171.42" font-size="5.9" font-weight="bold" text-anchor="start" fill="#000" stroke="#000" stroke-width="0.12">lncGCLC</text>
<rect x="401.40" y="175.25" width="9.30" height="2.40" fill="#a4a4a6" stroke="#222" stroke-width="0.7"/>
<text x="416.00" y="178.57" font-size="5.9" font-weight="bold" text-anchor="start" fill="#000" stroke="#000" stroke-width="0.12">miR-122-5p</text>
<rect x="401.40" y="182.40" width="9.30" height="2.40" fill="#fff" stroke="#222" stroke-width="0.7"/>
<text x="416.00" y="185.72" font-size="5.9" font-weight="bold" text-anchor="start" fill="#000" stroke="#000" stroke-width="0.12">GCLC</text>
<defs>
<filter id="b1" filterUnits="userSpaceOnUse" x="0" y="300" width="523" height="250"><feGaussianBlur stdDeviation="0.7 0.55"/></filter>
<filter id="b2" filterUnits="userSpaceOnUse" x="0" y="300" width="523" height="250"><feGaussianBlur stdDeviation="0.9 0.7"/></filter>
<filter id="b0" x="-5%" y="-20%" width="110%" height="140%"><feGaussianBlur stdDeviation="0.5"/></filter>
</defs>
<text x="118.70" y="307.60" font-size="8.4" font-weight="normal" text-anchor="middle" fill="#000" stroke="#000" stroke-width="0.34">MCLR</text>
<line x1="65.00" y1="310.40" x2="174.20" y2="310.40" stroke="#333" stroke-width="0.5"/>
<text x="46.40" y="321.90" font-size="8.6" font-weight="normal" text-anchor="end" fill="#000" stroke="#000" stroke-width="0.34">Passage</text>
<text x="67.40" y="321.80" font-size="8.7" font-weight="normal" text-anchor="middle" fill="#000" stroke="#000" stroke-width="0.34">0</text>
<text x="101.90" y="321.80" font-size="8.7" font-weight="normal" text-anchor="middle" fill="#000" stroke="#000" stroke-width="0.34">10</text>
<text x="134.40" y="321.80" font-size="8.7" font-weight="normal" text-anchor="middle" fill="#000" stroke="#000" stroke-width="0.34">15</text>
<text x="169.30" y="321.80" font-size="8.7" font-weight="normal" text-anchor="middle" fill="#000" stroke="#000" stroke-width="0.34">25</text>
<text x="46.00" y="335.70" font-size="8.5" font-weight="normal" text-anchor="end" fill="#000" stroke="#000" stroke-width="0.34">GCLC</text>
<text x="45.60" y="351.50" font-size="8.8" font-weight="normal" text-anchor="end" fill="#000" stroke="#000" stroke-width="0.34">β-actin</text>
<rect x="50.70" y="329.10" width="133.10" height="10.00" fill="#e3e3e3" filter="url(#b0)"/>
<rect x="50.70" y="343.60" width="133.10" height="10.20" fill="#c2c2c2" filter="url(#b0)"/>
<path d="M55.2 333.50 Q67.8 332.90 80.2 333.50" fill="none" stroke="#050505" stroke-width="2.50" stroke-linecap="round" opacity="1" filter="url(#b1)"/>
<path d="M89.8 333.60 Q101.2 332.80 112.8 333.60" fill="none" stroke="#050505" stroke-width="2.50" stroke-linecap="round" opacity="1" filter="url(#b1)"/>
<path d="M124.3 333.40 Q135.2 333.00 146.2 333.40" fill="none" stroke="#050505" stroke-width="1.60" stroke-linecap="round" opacity="1" filter="url(#b1)"/>
<path d="M158.3 333.60 Q169.2 332.80 180.2 333.60" fill="none" stroke="#050505" stroke-width="2.30" stroke-linecap="round" opacity="1" filter="url(#b1)"/>
<path d="M56.0 349.10 Q66.2 348.70 76.5 349.10" fill="none" stroke="#050505" stroke-width="3.90" stroke-linecap="round" opacity="1" filter="url(#b2)"/>
<path d="M90.8 349.40 Q101.2 348.40 111.8 349.40" fill="none" stroke="#050505" stroke-width="4.50" stroke-linecap="round" opacity="1" filter="url(#b2)"/>
<path d="M125.0 349.20 Q135.0 348.60 145.1 349.20" fill="none" stroke="#050505" stroke-width="3.90" stroke-linecap="round" opacity="1" filter="url(#b2)"/>
<path d="M158.2 349.20 Q168.0 348.60 177.8 349.20" fill="none" stroke="#050505" stroke-width="4.30" stroke-linecap="round" opacity="1" filter="url(#b2)"/>
<circle cx="126.0" cy="352.1" r="0.8" fill="#222"/>
<circle cx="140.1" cy="352.8" r="1.0" fill="#222"/>
<circle cx="142.1" cy="344.5" r="0.55" fill="#222"/>
<circle cx="151.7" cy="335.0" r="0.5" fill="#222"/>
<circle cx="127.0" cy="336.0" r="0.5" fill="#222"/>
<line x1="223.00" y1="293.16" x2="223.00" y2="377.44" stroke="#000" stroke-width="0.88"/>
<line x1="220.20" y1="293.60" x2="223.00" y2="293.60" stroke="#000" stroke-width="0.88"/>
<text x="219.20" y="295.65" font-size="5.7" font-weight="bold" text-anchor="end" fill="#000" stroke="#000" stroke-width="0.12" textLength="8.32" lengthAdjust="spacingAndGlyphs">1.5</text>
<line x1="220.20" y1="321.40" x2="223.00" y2="321.40" stroke="#000" stroke-width="0.88"/>
<text x="219.20" y="323.45" font-size="5.7" font-weight="bold" text-anchor="end" fill="#000" stroke="#000" stroke-width="0.12" textLength="8.32" lengthAdjust="spacingAndGlyphs">1.0</text>
<line x1="220.20" y1="349.20" x2="223.00" y2="349.20" stroke="#000" stroke-width="0.88"/>
<text x="219.20" y="351.25" font-size="5.7" font-weight="bold" text-anchor="end" fill="#000" stroke="#000" stroke-width="0.12" textLength="8.32" lengthAdjust="spacingAndGlyphs">0.5</text>
<line x1="220.20" y1="377.00" x2="223.00" y2="377.00" stroke="#000" stroke-width="0.88"/>
<text x="219.20" y="379.05" font-size="5.7" font-weight="bold" text-anchor="end" fill="#000" stroke="#000" stroke-width="0.12" textLength="8.32" lengthAdjust="spacingAndGlyphs">0.0</text>
<line x1="240.90" y1="319.90" x2="240.90" y2="321.50" stroke="#2a2a2a" stroke-width="0.6"/>
<line x1="236.50" y1="319.90" x2="245.30" y2="319.90" stroke="#2a2a2a" stroke-width="0.6"/>
<rect x="232.00" y="321.50" width="17.80" height="55.50" fill="#000"/>
<line x1="267.60" y1="334.40" x2="267.60" y2="337.90" stroke="#2a2a2a" stroke-width="0.6"/>
<line x1="263.20" y1="334.40" x2="272.00" y2="334.40" stroke="#2a2a2a" stroke-width="0.6"/>
<rect x="258.70" y="337.90" width="17.80" height="39.10" fill="#000"/>
<line x1="294.30" y1="336.50" x2="294.30" y2="339.70" stroke="#2a2a2a" stroke-width="0.6"/>
<line x1="289.90" y1="336.50" x2="298.70" y2="336.50" stroke="#2a2a2a" stroke-width="0.6"/>
<rect x="285.40" y="339.70" width="17.80" height="37.30" fill="#000"/>
<line x1="321.00" y1="340.10" x2="321.00" y2="345.10" stroke="#2a2a2a" stroke-width="0.6"/>
<line x1="316.60" y1="340.10" x2="325.40" y2="340.10" stroke="#2a2a2a" stroke-width="0.6"/>
<rect x="312.10" y="345.10" width="17.80" height="31.90" fill="#000"/>
<line x1="222.56" y1="377.00" x2="339.40" y2="377.00" stroke="#000" stroke-width="0.88"/>
<line x1="240.90" y1="377.00" x2="240.90" y2="380.00" stroke="#000" stroke-width="0.88"/>
<line x1="267.60" y1="377.00" x2="267.60" y2="380.00" stroke="#000" stroke-width="0.88"/>
<line x1="294.30" y1="377.00" x2="294.30" y2="380.00" stroke="#000" stroke-width="0.88"/>
<line x1="321.00" y1="377.00" x2="321.00" y2="380.00" stroke="#000" stroke-width="0.88"/>
<text x="240.90" y="386.72" font-size="5.6" font-weight="bold" text-anchor="middle" fill="#000" stroke="#000" stroke-width="0.12" textLength="7.26" lengthAdjust="spacingAndGlyphs">P0</text>
<text x="267.60" y="386.72" font-size="5.6" font-weight="bold" text-anchor="middle" fill="#000" stroke="#000" stroke-width="0.12" textLength="10.56" lengthAdjust="spacingAndGlyphs">P10</text>
<text x="294.30" y="386.72" font-size="5.6" font-weight="bold" text-anchor="middle" fill="#000" stroke="#000" stroke-width="0.12" textLength="10.56" lengthAdjust="spacingAndGlyphs">P15</text>
<text x="321.00" y="386.72" font-size="5.6" font-weight="bold" text-anchor="middle" fill="#000" stroke="#000" stroke-width="0.12" textLength="10.56" lengthAdjust="spacingAndGlyphs">P25</text>
<text x="265.95" y="330.20" font-size="6.4" font-weight="bold" text-anchor="middle" fill="#000" stroke="#000" stroke-width="0.08">*</text>
<text x="269.25" y="330.20" font-size="6.4" font-weight="bold" text-anchor="middle" fill="#000" stroke="#000" stroke-width="0.08">*</text>
<text x="292.65" y="333.30" font-size="6.4" font-weight="bold" text-anchor="middle" fill="#000" stroke="#000" stroke-width="0.08">*</text>
<text x="295.95" y="333.30" font-size="6.4" font-weight="bold" text-anchor="middle" fill="#000" stroke="#000" stroke-width="0.08">*</text>
<text x="319.35" y="336.60" font-size="6.4" font-weight="bold" text-anchor="middle" fill="#000" stroke="#000" stroke-width="0.08">*</text>
<text x="322.65" y="336.60" font-size="6.4" font-weight="bold" text-anchor="middle" fill="#000" stroke="#000" stroke-width="0.08">*</text>
<text x="206.90" y="335.30" font-size="5.3" font-weight="bold" text-anchor="middle" fill="#000" stroke="#000" stroke-width="0.12" textLength="95.40" lengthAdjust="spacingAndGlyphs" transform="rotate(-90 206.90 335.30)">GCLC/β-actin relative intensity(%)</text>
<line x1="393.60" y1="292.76" x2="393.60" y2="376.24" stroke="#000" stroke-width="0.88"/>
<line x1="390.30" y1="293.20" x2="393.60" y2="293.20" stroke="#000" stroke-width="0.88"/>
<text x="389.00" y="295.25" font-size="5.7" font-weight="bold" text-anchor="end" fill="#000" stroke="#000" stroke-width="0.12" textLength="8.32" lengthAdjust="spacingAndGlyphs">2.0</text>
<line x1="390.30" y1="313.85" x2="393.60" y2="313.85" stroke="#000" stroke-width="0.88"/>
<text x="389.00" y="315.90" font-size="5.7" font-weight="bold" text-anchor="end" fill="#000" stroke="#000" stroke-width="0.12" textLength="8.32" lengthAdjust="spacingAndGlyphs">1.5</text>
<line x1="390.30" y1="334.50" x2="393.60" y2="334.50" stroke="#000" stroke-width="0.88"/>
<text x="389.00" y="336.55" font-size="5.7" font-weight="bold" text-anchor="end" fill="#000" stroke="#000" stroke-width="0.12" textLength="8.32" lengthAdjust="spacingAndGlyphs">1.0</text>
<line x1="390.30" y1="355.15" x2="393.60" y2="355.15" stroke="#000" stroke-width="0.88"/>
<text x="389.00" y="357.20" font-size="5.7" font-weight="bold" text-anchor="end" fill="#000" stroke="#000" stroke-width="0.12" textLength="8.32" lengthAdjust="spacingAndGlyphs">0.5</text>
<line x1="390.30" y1="375.80" x2="393.60" y2="375.80" stroke="#000" stroke-width="0.88"/>
<text x="389.00" y="377.85" font-size="5.7" font-weight="bold" text-anchor="end" fill="#000" stroke="#000" stroke-width="0.12" textLength="8.32" lengthAdjust="spacingAndGlyphs">0.0</text>
<line x1="405.40" y1="333.90" x2="405.40" y2="334.70" stroke="#444" stroke-width="0.5"/>
<line x1="402.20" y1="333.90" x2="408.60" y2="333.90" stroke="#444" stroke-width="0.5"/>
<rect x="399.30" y="334.70" width="12.20" height="41.10" fill="#000"/>
<line x1="423.70" y1="332.40" x2="423.70" y2="334.70" stroke="#444" stroke-width="0.5"/>
<line x1="420.50" y1="332.40" x2="426.90" y2="332.40" stroke="#444" stroke-width="0.5"/>
<rect x="417.60" y="334.70" width="12.20" height="41.10" fill="#000"/>
<line x1="442.00" y1="316.70" x2="442.00" y2="318.10" stroke="#444" stroke-width="0.5"/>
<line x1="438.80" y1="316.70" x2="445.20" y2="316.70" stroke="#444" stroke-width="0.5"/>
<rect x="435.90" y="318.10" width="12.20" height="57.70" fill="#000"/>
<line x1="460.20" y1="311.90" x2="460.20" y2="312.90" stroke="#444" stroke-width="0.5"/>
<line x1="457.00" y1="311.90" x2="463.40" y2="311.90" stroke="#444" stroke-width="0.5"/>
<rect x="454.10" y="312.90" width="12.20" height="62.90" fill="#000"/>
<line x1="478.40" y1="314.00" x2="478.40" y2="315.90" stroke="#444" stroke-width="0.5"/>
<line x1="475.20" y1="314.00" x2="481.60" y2="314.00" stroke="#444" stroke-width="0.5"/>
<rect x="472.30" y="315.90" width="12.20" height="59.90" fill="#000"/>
<line x1="496.60" y1="301.40" x2="496.60" y2="302.90" stroke="#444" stroke-width="0.5"/>
<line x1="493.40" y1="301.40" x2="499.80" y2="301.40" stroke="#444" stroke-width="0.5"/>
<rect x="490.50" y="302.90" width="12.20" height="72.90" fill="#000"/>
<line x1="393.16" y1="375.80" x2="509.20" y2="375.80" stroke="#000" stroke-width="0.88"/>
<line x1="405.40" y1="375.80" x2="405.40" y2="379.30" stroke="#000" stroke-width="0.88"/>
<line x1="423.70" y1="375.80" x2="423.70" y2="379.30" stroke="#000" stroke-width="0.88"/>
<line x1="442.00" y1="375.80" x2="442.00" y2="379.30" stroke="#000" stroke-width="0.88"/>
<line x1="460.20" y1="375.80" x2="460.20" y2="379.30" stroke="#000" stroke-width="0.88"/>
<line x1="478.40" y1="375.80" x2="478.40" y2="379.30" stroke="#000" stroke-width="0.88"/>
<line x1="496.60" y1="375.80" x2="496.60" y2="379.30" stroke="#000" stroke-width="0.88"/>
<text x="406.80" y="386.70" font-size="5.9" font-weight="bold" text-anchor="end" fill="#000" stroke="#000" stroke-width="0.16" transform="rotate(-27.5 406.80 386.70)">control</text>
<text x="425.10" y="386.70" font-size="5.9" font-weight="bold" text-anchor="end" fill="#000" stroke="#000" stroke-width="0.16" transform="rotate(-27.5 425.10 386.70)">sh-NC</text>
<text x="443.40" y="386.70" font-size="5.9" font-weight="bold" text-anchor="end" fill="#000" stroke="#000" stroke-width="0.16" transform="rotate(-27.5 443.40 386.70)">sh-lncGCLC</text>
<text x="461.60" y="386.70" font-size="5.9" font-weight="bold" text-anchor="end" fill="#000" stroke="#000" stroke-width="0.16" transform="rotate(-27.5 461.60 386.70)">MCLR</text>
<text x="479.80" y="386.70" font-size="5.9" font-weight="bold" text-anchor="end" fill="#000" stroke="#000" stroke-width="0.16" transform="rotate(-27.5 479.80 386.70)">sh-NC+MCLR</text>
<text x="498.00" y="386.70" font-size="5.9" font-weight="bold" text-anchor="end" fill="#000" stroke="#000" stroke-width="0.16" transform="rotate(-27.5 498.00 386.70)">sh-lncGCLC+MCLR</text>
<text x="441.90" y="311.90" font-size="5.9" font-weight="bold" text-anchor="middle" fill="#000" stroke="#000" stroke-width="0.12">#</text>
<text x="460.30" y="307.20" font-size="7.2" font-weight="bold" text-anchor="middle" fill="#000" stroke="#000" stroke-width="0.15">*</text>
<text x="478.40" y="310.40" font-size="5.9" font-weight="bold" text-anchor="middle" fill="#000" stroke="#000" stroke-width="0.12">#</text>
<text x="497.00" y="298.40" font-size="5.9" font-weight="bold" text-anchor="middle" fill="#000" stroke="#000" stroke-width="0.12">†</text>
<text x="370.00" y="334.50" font-size="5.3" font-weight="bold" text-anchor="middle" fill="#000" stroke="#000" stroke-width="0.12" textLength="93.00" lengthAdjust="spacingAndGlyphs" transform="rotate(-90 370.00 334.50)">Relative expression of miR-122-5p</text>
<text x="377.00" y="335.00" font-size="5.3" font-weight="bold" text-anchor="middle" fill="#000" stroke="#000" stroke-width="0.12" textLength="50.80" lengthAdjust="spacingAndGlyphs" transform="rotate(-90 377.00 335.00)">(Normalized to U6)</text>
<line x1="51.00" y1="426.16" x2="51.00" y2="510.14" stroke="#000" stroke-width="0.88"/>
<line x1="48.20" y1="426.60" x2="51.00" y2="426.60" stroke="#000" stroke-width="0.88"/>
<text x="47.20" y="428.65" font-size="5.7" font-weight="bold" text-anchor="end" fill="#000" stroke="#000" stroke-width="0.12" textLength="8.32" lengthAdjust="spacingAndGlyphs">1.5</text>
<line x1="48.20" y1="454.30" x2="51.00" y2="454.30" stroke="#000" stroke-width="0.88"/>
<text x="47.20" y="456.35" font-size="5.7" font-weight="bold" text-anchor="end" fill="#000" stroke="#000" stroke-width="0.12" textLength="8.32" lengthAdjust="spacingAndGlyphs">1.0</text>
<line x1="48.20" y1="482.00" x2="51.00" y2="482.00" stroke="#000" stroke-width="0.88"/>
<text x="47.20" y="484.05" font-size="5.7" font-weight="bold" text-anchor="end" fill="#000" stroke="#000" stroke-width="0.12" textLength="8.32" lengthAdjust="spacingAndGlyphs">0.5</text>
<line x1="48.20" y1="509.70" x2="51.00" y2="509.70" stroke="#000" stroke-width="0.88"/>
<text x="47.20" y="511.75" font-size="5.7" font-weight="bold" text-anchor="end" fill="#000" stroke="#000" stroke-width="0.12" textLength="8.32" lengthAdjust="spacingAndGlyphs">0.0</text>
<line x1="63.40" y1="451.10" x2="63.40" y2="454.40" stroke="#444" stroke-width="0.5"/>
<line x1="60.20" y1="451.10" x2="66.60" y2="451.10" stroke="#444" stroke-width="0.5"/>
<rect x="57.30" y="454.40" width="12.20" height="55.30" fill="#000"/>
<line x1="81.70" y1="449.20" x2="81.70" y2="455.20" stroke="#444" stroke-width="0.5"/>
<line x1="78.50" y1="449.20" x2="84.90" y2="449.20" stroke="#444" stroke-width="0.5"/>
<rect x="75.60" y="455.20" width="12.20" height="54.50" fill="#000"/>
<line x1="100.00" y1="469.70" x2="100.00" y2="474.10" stroke="#444" stroke-width="0.5"/>
<line x1="96.80" y1="469.70" x2="103.20" y2="469.70" stroke="#444" stroke-width="0.5"/>
<rect x="93.90" y="474.10" width="12.20" height="35.60" fill="#000"/>
<line x1="118.10" y1="475.40" x2="118.10" y2="476.80" stroke="#444" stroke-width="0.5"/>
<line x1="114.90" y1="475.40" x2="121.30" y2="475.40" stroke="#444" stroke-width="0.5"/>
<rect x="112.00" y="476.80" width="12.20" height="32.90" fill="#000"/>
<line x1="136.40" y1="470.70" x2="136.40" y2="472.00" stroke="#444" stroke-width="0.5"/>
<line x1="133.20" y1="470.70" x2="139.60" y2="470.70" stroke="#444" stroke-width="0.5"/>
<rect x="130.30" y="472.00" width="12.20" height="37.70" fill="#000"/>
<line x1="154.80" y1="480.20" x2="154.80" y2="480.80" stroke="#444" stroke-width="0.5"/>
<line x1="151.60" y1="480.20" x2="158.00" y2="480.20" stroke="#444" stroke-width="0.5"/>
<rect x="148.70" y="480.80" width="12.20" height="28.90" fill="#000"/>
<line x1="50.56" y1="509.70" x2="167.50" y2="509.70" stroke="#000" stroke-width="0.88"/>
<line x1="63.40" y1="509.70" x2="63.40" y2="513.20" stroke="#000" stroke-width="0.88"/>
<line x1="81.70" y1="509.70" x2="81.70" y2="513.20" stroke="#000" stroke-width="0.88"/>
<line x1="100.00" y1="509.70" x2="100.00" y2="513.20" stroke="#000" stroke-width="0.88"/>
<line x1="118.10" y1="509.70" x2="118.10" y2="513.20" stroke="#000" stroke-width="0.88"/>
<line x1="136.40" y1="509.70" x2="136.40" y2="513.20" stroke="#000" stroke-width="0.88"/>
<line x1="154.80" y1="509.70" x2="154.80" y2="513.20" stroke="#000" stroke-width="0.88"/>
<text x="65.00" y="520.30" font-size="5.9" font-weight="bold" text-anchor="end" fill="#000" stroke="#000" stroke-width="0.16" transform="rotate(-27 65.00 520.30)">control</text>
<text x="83.30" y="520.30" font-size="5.9" font-weight="bold" text-anchor="end" fill="#000" stroke="#000" stroke-width="0.16" transform="rotate(-27 83.30 520.30)">sh-NC</text>
<text x="101.60" y="520.30" font-size="5.9" font-weight="bold" text-anchor="end" fill="#000" stroke="#000" stroke-width="0.16" transform="rotate(-27 101.60 520.30)">sh-lncGCLC</text>
<text x="119.70" y="520.30" font-size="5.9" font-weight="bold" text-anchor="end" fill="#000" stroke="#000" stroke-width="0.16" transform="rotate(-27 119.70 520.30)">MCLR</text>
<text x="138.00" y="520.30" font-size="5.9" font-weight="bold" text-anchor="end" fill="#000" stroke="#000" stroke-width="0.16" transform="rotate(-27 138.00 520.30)">sh-NC+MCLR</text>
<text x="156.40" y="520.30" font-size="5.9" font-weight="bold" text-anchor="end" fill="#000" stroke="#000" stroke-width="0.16" transform="rotate(-27 156.40 520.30)">sh-lncGCLC+MCLR</text>
<text x="99.90" y="465.70" font-size="5.9" font-weight="bold" text-anchor="middle" fill="#000" stroke="#000" stroke-width="0.12">#</text>
<text x="118.00" y="471.70" font-size="7.2" font-weight="bold" text-anchor="middle" fill="#000" stroke="#000" stroke-width="0.15">*</text>
<text x="136.20" y="466.50" font-size="5.9" font-weight="bold" text-anchor="middle" fill="#000" stroke="#000" stroke-width="0.12">#</text>
<text x="154.90" y="477.50" font-size="5.9" font-weight="bold" text-anchor="middle" fill="#000" stroke="#000" stroke-width="0.12">†</text>
<text x="28.30" y="468.00" font-size="5.3" font-weight="bold" text-anchor="middle" fill="#000" stroke="#000" stroke-width="0.12" textLength="98.00" lengthAdjust="spacingAndGlyphs" transform="rotate(-90 28.30 468.00)">Relative expression of GCLC mRNA</text>
<text x="35.50" y="469.80" font-size="5.3" font-weight="bold" text-anchor="middle" fill="#000" stroke="#000" stroke-width="0.12" textLength="68.40" lengthAdjust="spacingAndGlyphs" transform="rotate(-90 35.50 469.80)">(Normalized to GAPDH)</text>
<text x="196.40" y="463.40" font-size="6.3" font-weight="normal" text-anchor="end" fill="#000" stroke="#000" stroke-width="0.2">GCLC</text>
<text x="196.40" y="481.00" font-size="6.3" font-weight="normal" text-anchor="end" fill="#000" stroke="#000" stroke-width="0.2">β-actin</text>
<rect x="198.00" y="455.00" width="155.60" height="12.60" fill="#e6e6e6" filter="url(#b0)"/>
<rect x="198.00" y="471.40" width="155.60" height="15.80" fill="#e2e2e2" filter="url(#b0)"/>
<rect x="200" y="455.6" width="52" height="2.4" fill="#9a9a9a" opacity="0.55" filter="url(#b2)"/>
<path d="M203.8 459.20 Q212.2 459.80 220.5 459.20" fill="none" stroke="#050505" stroke-width="3.70" stroke-linecap="round" opacity="1" filter="url(#b1)"/>
<path d="M228.1 459.20 Q237.1 459.80 246.1 459.20" fill="none" stroke="#050505" stroke-width="3.50" stroke-linecap="round" opacity="1" filter="url(#b1)"/>
<path d="M254.4 459.20 Q263.1 459.80 271.9 459.20" fill="none" stroke="#050505" stroke-width="2.80" stroke-linecap="round" opacity="1" filter="url(#b1)"/>
<path d="M280.9 459.20 Q288.8 459.80 296.7 459.20" fill="none" stroke="#050505" stroke-width="2.60" stroke-linecap="round" opacity="1" filter="url(#b1)"/>
<path d="M306.4 459.20 Q314.6 459.80 322.8 459.20" fill="none" stroke="#050505" stroke-width="2.70" stroke-linecap="round" opacity="1" filter="url(#b1)"/>
<path d="M332.2 459.20 Q340.5 459.80 348.8 459.20" fill="none" stroke="#050505" stroke-width="2.50" stroke-linecap="round" opacity="1" filter="url(#b1)"/>
<path d="M203.9 479.10 Q212.2 478.50 220.4 479.10" fill="none" stroke="#050505" stroke-width="3.90" stroke-linecap="round" opacity="1" filter="url(#b2)"/>
<path d="M230.2 479.70 Q237.9 479.10 245.8 479.70" fill="none" stroke="#050505" stroke-width="3.70" stroke-linecap="round" opacity="1" filter="url(#b2)"/>
<path d="M255.3 480.30 Q263.7 479.70 272.1 480.30" fill="none" stroke="#050505" stroke-width="3.90" stroke-linecap="round" opacity="1" filter="url(#b2)"/>
<path d="M281.7 480.30 Q288.8 479.70 295.9 480.30" fill="none" stroke="#050505" stroke-width="4.10" stroke-linecap="round" opacity="1" filter="url(#b2)"/>
<path d="M306.9 480.50 Q314.5 479.90 322.1 480.50" fill="none" stroke="#050505" stroke-width="4.30" stroke-linecap="round" opacity="1" filter="url(#b2)"/>
<path d="M332.6 480.30 Q340.3 479.70 348.1 480.30" fill="none" stroke="#050505" stroke-width="3.90" stroke-linecap="round" opacity="1" filter="url(#b2)"/>
<circle cx="205.0" cy="457.0" r="0.35" fill="#555"/>
<circle cx="227.8" cy="456.2" r="0.35" fill="#555"/>
<circle cx="225.6" cy="458.3" r="0.4" fill="#555"/>
<circle cx="247.0" cy="456.5" r="0.3" fill="#555"/>
<text x="213.60" y="493.60" font-size="6.75" font-weight="normal" text-anchor="end" fill="#000" stroke="#000" stroke-width="0.3" transform="rotate(-28.5 213.60 493.60)">control</text>
<text x="239.40" y="493.60" font-size="6.75" font-weight="normal" text-anchor="end" fill="#000" stroke="#000" stroke-width="0.3" transform="rotate(-28.5 239.40 493.60)">sh-NC</text>
<text x="266.00" y="493.60" font-size="6.75" font-weight="normal" text-anchor="end" fill="#000" stroke="#000" stroke-width="0.3" transform="rotate(-28.5 266.00 493.60)">sh-lncGCLC</text>
<text x="291.60" y="493.60" font-size="6.75" font-weight="normal" text-anchor="end" fill="#000" stroke="#000" stroke-width="0.3" transform="rotate(-28.5 291.60 493.60)">MCLR</text>
<text x="317.40" y="493.60" font-size="6.75" font-weight="normal" text-anchor="end" fill="#000" stroke="#000" stroke-width="0.3" transform="rotate(-28.5 317.40 493.60)">sh-NC+MCLR</text>
<text x="346.00" y="493.60" font-size="6.75" font-weight="normal" text-anchor="end" fill="#000" stroke="#000" stroke-width="0.3" transform="rotate(-28.5 346.00 493.60)">sh-lncGCLC+MCLR</text>
<line x1="393.70" y1="426.76" x2="393.70" y2="510.94" stroke="#000" stroke-width="0.88"/>
<line x1="390.90" y1="427.20" x2="393.70" y2="427.20" stroke="#000" stroke-width="0.88"/>
<text x="389.00" y="429.25" font-size="5.7" font-weight="bold" text-anchor="end" fill="#000" stroke="#000" stroke-width="0.12" textLength="9.99" lengthAdjust="spacingAndGlyphs">150</text>
<line x1="390.90" y1="454.97" x2="393.70" y2="454.97" stroke="#000" stroke-width="0.88"/>
<text x="389.00" y="457.02" font-size="5.7" font-weight="bold" text-anchor="end" fill="#000" stroke="#000" stroke-width="0.12" textLength="9.99" lengthAdjust="spacingAndGlyphs">100</text>
<line x1="390.90" y1="482.73" x2="393.70" y2="482.73" stroke="#000" stroke-width="0.88"/>
<text x="389.00" y="484.78" font-size="5.7" font-weight="bold" text-anchor="end" fill="#000" stroke="#000" stroke-width="0.12" textLength="6.66" lengthAdjust="spacingAndGlyphs">50</text>
<line x1="390.90" y1="510.50" x2="393.70" y2="510.50" stroke="#000" stroke-width="0.88"/>
<text x="389.00" y="512.55" font-size="5.7" font-weight="bold" text-anchor="end" fill="#000" stroke="#000" stroke-width="0.12" textLength="3.33" lengthAdjust="spacingAndGlyphs">0</text>
<line x1="405.80" y1="453.20" x2="405.80" y2="453.60" stroke="#444" stroke-width="0.5"/>
<line x1="402.60" y1="453.20" x2="409.00" y2="453.20" stroke="#444" stroke-width="0.5"/>
<rect x="399.70" y="453.60" width="12.20" height="56.90" fill="#000"/>
<line x1="424.00" y1="451.70" x2="424.00" y2="454.20" stroke="#444" stroke-width="0.5"/>
<line x1="420.80" y1="451.70" x2="427.20" y2="451.70" stroke="#444" stroke-width="0.5"/>
<rect x="417.90" y="454.20" width="12.20" height="56.30" fill="#000"/>
<line x1="442.20" y1="458.20" x2="442.20" y2="463.80" stroke="#444" stroke-width="0.5"/>
<line x1="439.00" y1="458.20" x2="445.40" y2="458.20" stroke="#444" stroke-width="0.5"/>
<rect x="436.10" y="463.80" width="12.20" height="46.70" fill="#000"/>
<line x1="460.40" y1="464.40" x2="460.40" y2="468.60" stroke="#444" stroke-width="0.5"/>
<line x1="457.20" y1="464.40" x2="463.60" y2="464.40" stroke="#444" stroke-width="0.5"/>
<rect x="454.30" y="468.60" width="12.20" height="41.90" fill="#000"/>
<line x1="478.60" y1="460.20" x2="478.60" y2="467.30" stroke="#444" stroke-width="0.5"/>
<line x1="475.40" y1="460.20" x2="481.80" y2="460.20" stroke="#444" stroke-width="0.5"/>
<rect x="472.50" y="467.30" width="12.20" height="43.20" fill="#000"/>
<line x1="496.90" y1="470.70" x2="496.90" y2="475.30" stroke="#444" stroke-width="0.5"/>
<line x1="493.70" y1="470.70" x2="500.10" y2="470.70" stroke="#444" stroke-width="0.5"/>
<rect x="490.80" y="475.30" width="12.20" height="35.20" fill="#000"/>
<line x1="393.26" y1="510.50" x2="510.20" y2="510.50" stroke="#000" stroke-width="0.88"/>
<line x1="405.80" y1="510.50" x2="405.80" y2="514.00" stroke="#000" stroke-width="0.88"/>
<line x1="424.00" y1="510.50" x2="424.00" y2="514.00" stroke="#000" stroke-width="0.88"/>
<line x1="442.20" y1="510.50" x2="442.20" y2="514.00" stroke="#000" stroke-width="0.88"/>
<line x1="460.40" y1="510.50" x2="460.40" y2="514.00" stroke="#000" stroke-width="0.88"/>
<line x1="478.60" y1="510.50" x2="478.60" y2="514.00" stroke="#000" stroke-width="0.88"/>
<line x1="496.90" y1="510.50" x2="496.90" y2="514.00" stroke="#000" stroke-width="0.88"/>
<text x="407.60" y="520.80" font-size="5.9" font-weight="bold" text-anchor="end" fill="#000" stroke="#000" stroke-width="0.16" transform="rotate(-27 407.60 520.80)">control</text>
<text x="425.80" y="520.80" font-size="5.9" font-weight="bold" text-anchor="end" fill="#000" stroke="#000" stroke-width="0.16" transform="rotate(-27 425.80 520.80)">sh-NC</text>
<text x="444.00" y="520.80" font-size="5.9" font-weight="bold" text-anchor="end" fill="#000" stroke="#000" stroke-width="0.16" transform="rotate(-27 444.00 520.80)">sh-lncGCLC</text>
<text x="462.20" y="520.80" font-size="5.9" font-weight="bold" text-anchor="end" fill="#000" stroke="#000" stroke-width="0.16" transform="rotate(-27 462.20 520.80)">MCLR</text>
<text x="480.40" y="520.80" font-size="5.9" font-weight="bold" text-anchor="end" fill="#000" stroke="#000" stroke-width="0.16" transform="rotate(-27 480.40 520.80)">sh-NC+MCLR</text>
<text x="498.70" y="520.80" font-size="5.9" font-weight="bold" text-anchor="end" fill="#000" stroke="#000" stroke-width="0.16" transform="rotate(-27 498.70 520.80)">sh-lncGCLC+MCLR</text>
<text x="442.10" y="453.60" font-size="5.9" font-weight="bold" text-anchor="middle" fill="#000" stroke="#000" stroke-width="0.12">#</text>
<text x="460.70" y="460.00" font-size="7.2" font-weight="bold" text-anchor="middle" fill="#000" stroke="#000" stroke-width="0.15">*</text>
<text x="478.40" y="456.40" font-size="5.9" font-weight="bold" text-anchor="middle" fill="#000" stroke="#000" stroke-width="0.12">#</text>
<text x="497.00" y="468.00" font-size="5.9" font-weight="bold" text-anchor="middle" fill="#000" stroke="#000" stroke-width="0.12">†</text>
<text x="375.50" y="468.50" font-size="5.3" font-weight="bold" text-anchor="middle" fill="#000" stroke="#000" stroke-width="0.12" textLength="95.00" lengthAdjust="spacingAndGlyphs" transform="rotate(-90 375.50 468.50)">GCLC/β-actin relative intensity(%)</text>
</svg>
</body></html>
